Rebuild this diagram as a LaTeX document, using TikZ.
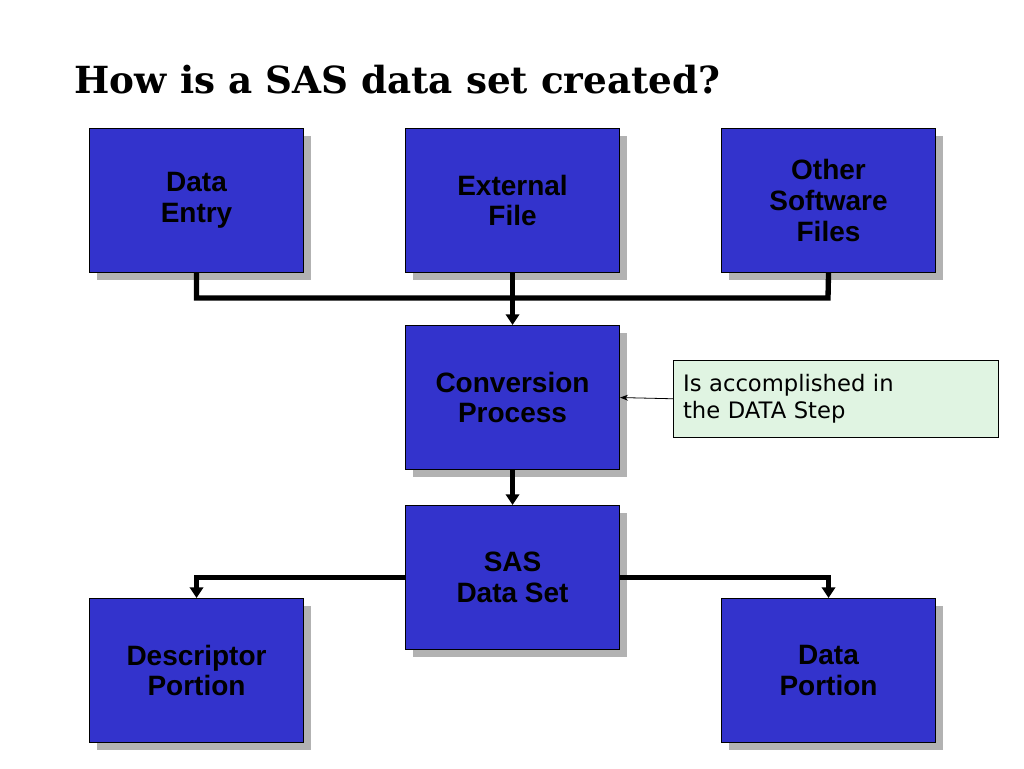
\documentclass[tikz,border=0pt]{standalone}
\usepackage{fontspec}
\setmainfont{Liberation Sans}
\newfontfamily\titlefont{DejaVu Serif}
\newfontfamily\callfont{DejaVu Sans}
\usetikzlibrary{arrows.meta}
\begin{document}
\begin{tikzpicture}[x=0.75pt,y=-0.75pt,
 bx/.style={draw=black,fill=blue!80!black!80!white,line width=0.8pt,minimum width=160.5pt,minimum height=108pt,anchor=north west,inner sep=0pt,align=center,font=\fontsize{21}{23}\selectfont\bfseries},
 sh/.style={fill=gray!60,draw=none,minimum width=160.5pt,minimum height=108pt,anchor=north west},
 ln/.style={line width=4pt},
 ar/.style={line width=4pt,-{Triangle[length=8pt,width=10pt]}}]
\useasboundingbox (0,0) rectangle (1024,768);
\definecolor{boxblue}{HTML}{3333CC}
\tikzset{bx/.append style={fill=boxblue}}
\node[anchor=west,font=\titlefont\bfseries\fontsize{28}{30}\selectfont] (title) at (70,80) {How is a SAS data set created?};
\foreach \n/\x/\y in {a/89/128,b/405/128,c/721/128,d/405/325,e/405/505,f/89/598,g/721/598}{
 \node[sh] (s\n) at (\x+8,\y+8) {};}
\node[bx] (entry) at (89,128) {Data\\Entry};
\node[bx] (ext) at (405,128) {External\\File};
\node[bx] (oth) at (721,128) {Other\\Software\\Files};
\node[bx] (conv) at (405,325) {Conversion\\Process};
\node[bx] (sas) at (405,505) {SAS\\Data Set};
\node[bx] (desc) at (89,598) {Descriptor\\Portion};
\node[bx] (dp) at (721,598) {Data\\Portion};
\coordinate (j1) at (196,298);
\coordinate (j2) at (828,298);
\draw[ln] (entry.south) |- (j2) -- (oth.south);
\draw[ar] (ext.south) -- (conv.north);
\draw[ar] (conv.south) -- (sas.north);
\draw[ar] (sas.west) -| (desc.north);
\draw[ar] (sas.east) -| (dp.north);
\node[draw=black,fill=cyan!8!green!12!white,anchor=north west,minimum width=243.75pt,minimum height=57.75pt,inner xsep=7pt,text width=229pt,align=left,font=\callfont\fontsize{17}{20}\selectfont] (call) at (673,360) {Is accomplished in\\the DATA Step};
\draw[-{Stealth[length=6pt]},line width=0.6pt] (call.west) -- (conv.east);
\end{tikzpicture}
\end{document}
